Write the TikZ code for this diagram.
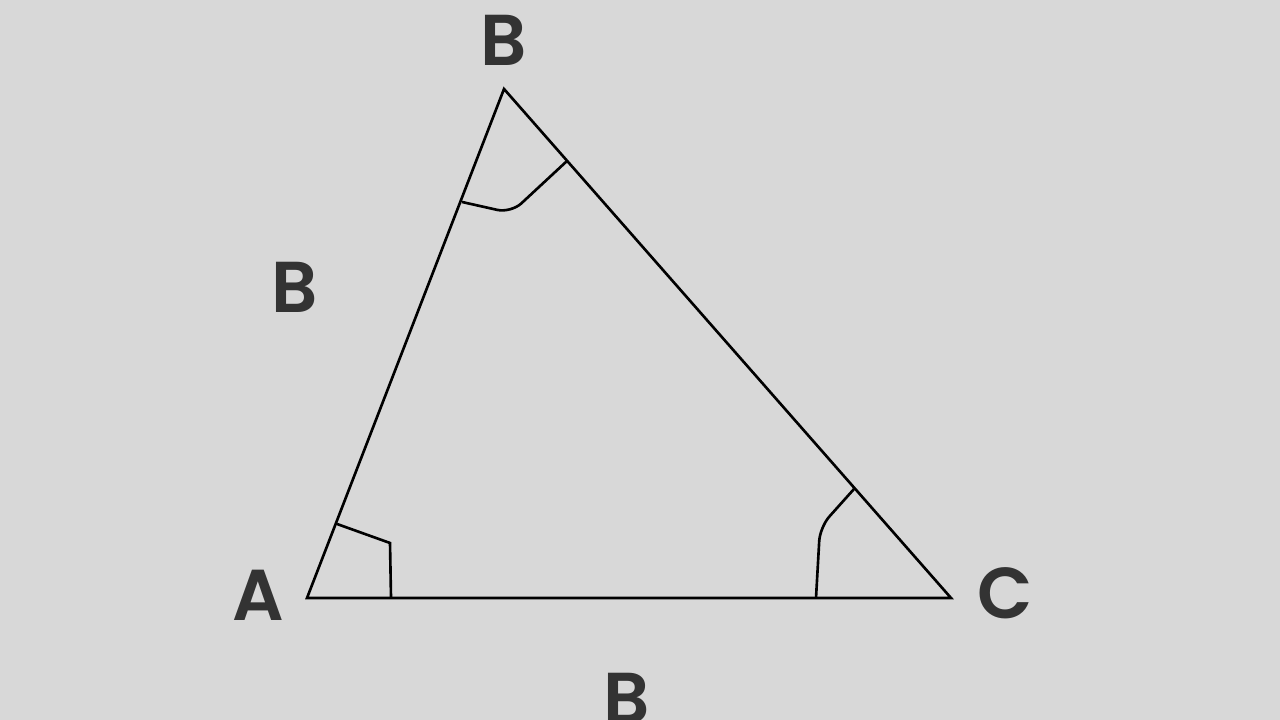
\documentclass[tikz,border=0pt]{standalone}
\usepackage{fontspec}
\newfontfamily\lblfont{Poppins SemiBold}
\usetikzlibrary{positioning}
\definecolor{bggray}{HTML}{D8D8D8}
\definecolor{txtgray}{HTML}{333333}

\begin{document}
\begin{tikzpicture}[
  side/.style={line width=0.75pt, line join=miter},
  lbl/.style={inner sep=0pt, text=txtgray, font=\lblfont\fontsize{20.5}{24}\selectfont}
]
 \fill[bggray] (0,0) rectangle (12.8,7.2);
 \useasboundingbox (0,0) rectangle (12.8,7.2);

 %Vertices
 \coordinate (A) at (3.07,1.22);
 \coordinate (B) at (5.04,6.31);
 \coordinate (C) at (9.51,1.22);

 %Triangle
 \draw[side] (A) -- (B) -- (C) -- cycle;

 %Angle marks
 \draw[side] (3.37,1.96) -- (3.90,1.77) -- (3.91,1.22);
 \draw[side, rounded corners=4pt] (4.62,5.18) -- (5.11,5.07) -- (5.67,5.59);
 \draw[side, rounded corners=4pt] (8.16,1.22) -- (8.20,1.93) -- (8.54,2.31);

 %Names
 \node (Btop) [lbl, above=0.23cm of B] {B};
 \node (Aname) [lbl, left=0.22cm of A, yshift=0.03cm] {A};
 \node (Cname) [lbl, right=0.26cm of C, yshift=0.05cm] {C};
 \node (Bside) [lbl] at (2.95,4.33) {B};
 \node (Bbase) [lbl] at (6.27,0.22) {B};
\end{tikzpicture}
\end{document}
